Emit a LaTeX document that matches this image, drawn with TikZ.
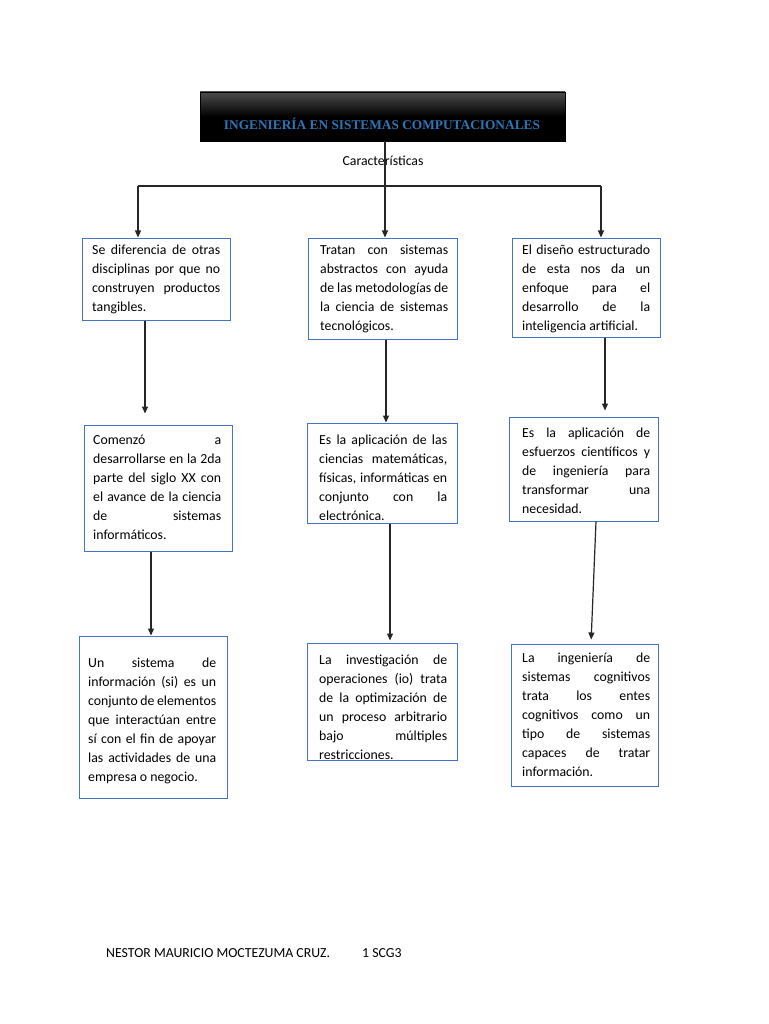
\documentclass[tikz,border=0pt]{standalone}
\usepackage{fontspec}
\usepackage{graphicx}
\setmainfont{Carlito}
\newfontfamily\titlefont{Liberation Serif}
\usetikzlibrary{arrows.meta,fit}
\definecolor{boxblue}{RGB}{68,114,196}
\definecolor{titleblue}{RGB}{46,117,182}
\hyphenpenalty=10000
\exhyphenpenalty=10000
\tolerance=10000
\hbadness=10000
\tikzset{
  x=1pt, y=-1pt,
  boxst/.style={draw=boxblue, line width=1pt, inner sep=0pt, fill=white},
  txt/.style={inner sep=0pt, text width=128pt, align=justify, anchor=base west,
    font=\fontsize{13.8}{19}\selectfont},
  ln/.style={draw=black!85, line width=1.2pt},
  arr/.style={ln, -{Triangle[length=7pt,width=6pt]}},
  plain/.style={inner sep=0pt, font=\fontsize{13.8}{16}\selectfont},
}
\newcommand\mkbox[8]{%
  \coordinate (#1nw) at (#2,#3);
  \coordinate (#1se) at (#4,#5);
  \node[boxst, fit=(#1nw)(#1se)] (#1) {};
  \node[txt] (#1t) at (#6,#7) {#8};
}
\begin{document}
\begin{tikzpicture}
\useasboundingbox[fill=white] (0,0) rectangle (768,1024);

% title
\coordinate (tnw) at (200,92);
\coordinate (tse) at (565,141);
\node[fit=(tnw)(tse), inner sep=0pt, draw=black, top color=black!70, bottom color=black, middle color=black] (title) {};
\node[anchor=base, inner sep=0pt, text=titleblue, font=\titlefont\bfseries] (ttxt) at (382,130)
  {\resizebox{316pt}{!}{INGENIERÍA EN SISTEMAS COMPUTACIONALES}};

\node[plain, anchor=base] (car) at (383,166) {Características};

% boxes
\mkbox{b1}{82}{238}{230}{320}{92}{254}{Se diferencia de otras\linebreak disciplinas por que no\linebreak construyen productos\linebreak tangibles.}
\mkbox{b2}{308}{238}{457}{339}{320}{254}{Tratan con sistemas\linebreak abstractos con ayuda\linebreak de las metodologías de\linebreak la ciencia de sistemas\linebreak tecnológicos.}
\mkbox{b3}{512}{238}{660}{337}{522}{254}{El diseño estructurado\linebreak de esta nos da un\linebreak enfoque para el\linebreak desarrollo de la\linebreak inteligencia artificial.}
\mkbox{b4}{84}{425}{232}{551}{93}{444}{Comenzó a\linebreak desarrollarse en la 2da\linebreak parte del siglo XX con\linebreak el avance de la ciencia\linebreak de sistemas\linebreak informáticos.}
\mkbox{b5}{307}{423}{457}{523}{319}{444}{Es la aplicación de las\linebreak ciencias matemáticas,\linebreak físicas, informáticas en\linebreak conjunto con la\linebreak electrónica.}
\mkbox{b6}{509}{417}{658}{521}{522}{437}{Es la aplicación de\linebreak esfuerzos científicos y\linebreak de ingeniería para\linebreak transformar una\linebreak necesidad.}
\mkbox{b7}{79}{636}{227}{798}{88}{667}{Un sistema de\linebreak información (si) es un\linebreak conjunto de elementos\linebreak que interactúan entre\linebreak sí con el fin de apoyar\linebreak las actividades de una\linebreak empresa o negocio.}
\mkbox{b8}{307}{643}{457}{760}{319}{664}{La investigación de\linebreak operaciones (io) trata\linebreak de la optimización de\linebreak un proceso arbitrario\linebreak bajo múltiples\linebreak restricciones.}
\mkbox{b9}{511}{644}{658}{786}{522}{662}{La ingeniería de\linebreak sistemas cognitivos\linebreak trata los entes\linebreak cognitivos como un\linebreak tipo de sistemas\linebreak capaces de tratar\linebreak información.}

% top connectors
\coordinate (jc) at (385,186);
\coordinate (jl) at (138,186);
\coordinate (jr) at (601,186);
\draw[ln] (jc |- title.south) -- (jc);
\draw[ln] (jl) -- (jr);
\draw[arr] (jl) -- (jl |- b1.north);
\draw[arr] (jc) -- (jc |- b2.north);
\draw[arr] (jr) -- (jr |- b3.north);

% vertical connectors
\draw[arr, shorten >=11pt] ([xshift=-11pt]b1.south) -- ([xshift=-11pt]b1.south |- b4.north);
\draw[arr] ([xshift=3.5pt]b2.south) -- ([xshift=3.5pt]b2.south |- b5.north);
\draw[arr, shorten >=6pt] ([xshift=19pt]b3.south) -- ([xshift=19pt]b3.south |- b6.north);
\draw[arr] ([xshift=-7pt]b4.south) -- ([xshift=-7pt]b4.south |- b7.north);
\draw[arr, shorten >=2pt] ([xshift=8pt]b5.south) -- ([xshift=8pt]b5.south |- b8.north);
\draw[arr, shorten >=4pt] ([xshift=12.5pt]b6.south) -- ([xshift=6.5pt]b9.north);

% footer
\node[plain, anchor=base west] (auth) at (106,957) {NESTOR MAURICIO MOCTEZUMA CRUZ.};
\node[plain, anchor=base west] (grp) at (362,957) {1 SCG3};
\end{tikzpicture}
\end{document}
